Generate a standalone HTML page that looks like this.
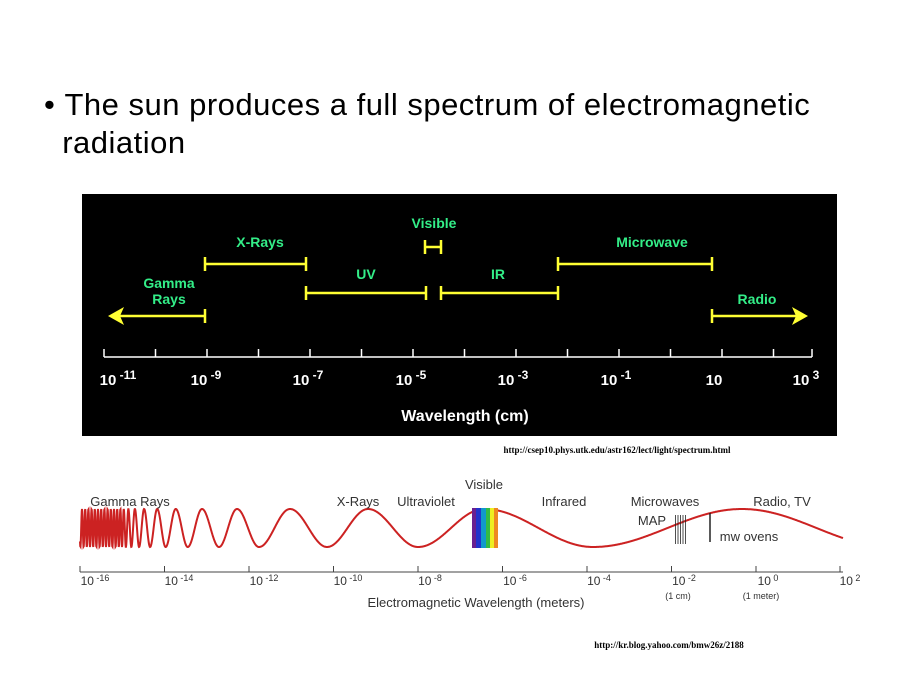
<!DOCTYPE html>
<html><head><meta charset="utf-8"><style>
body{margin:0;width:900px;height:675px;background:#fff;overflow:hidden;position:relative;font-family:"Liberation Sans",sans-serif}
.t{position:absolute;white-space:nowrap}
</style></head><body>
<div class="t" style="left:44px;top:86px;font-size:31px;color:#000;line-height:38px;letter-spacing:0.5px">•&nbsp;The sun produces a full spectrum of electromagnetic<br>&nbsp;&nbsp;radiation</div>
<svg width="900" height="675" style="position:absolute;left:0;top:0" font-family="Liberation Sans, sans-serif">
<rect x="82" y="194" width="755" height="242" fill="#000"/>
<g stroke="#ffff33" stroke-width="2.5" fill="none">
<path d="M205 264H306M205 257V271M306 257V271"/>
<path d="M558 264H712M558 257V271M712 257V271"/>
<path d="M306 293H426M306 286V300M426 286V300"/>
<path d="M441 293H558M441 286V300M558 286V300"/>
<path d="M425 247H441M425 240V254M441 240V254"/>
<path d="M118 316H205M205 309V323"/>
<path d="M712 316H798M712 309V323"/>
</g>
<polygon points="108,316 124,307 120,316 124,325" fill="#ffff33"/>
<polygon points="808,316 792,307 796,316 792,325" fill="#ffff33"/>
<g fill="#33ee88" font-weight="bold" font-size="14" text-anchor="middle">
<text x="434" y="228">Visible</text><text x="260" y="247">X-Rays</text><text x="366" y="279">UV</text><text x="498" y="279">IR</text><text x="652" y="247">Microwave</text><text x="169" y="288">Gamma</text><text x="169" y="304">Rays</text><text x="757" y="304">Radio</text>
</g>
<g stroke="#fff" stroke-width="1.5">
<path d="M104 357H812"/>
<path d="M104 349V357M155.5 349V357M207 349V357M258.5 349V357M310 349V357M361.5 349V357M413 349V357M464.5 349V357M516 349V357M567.5 349V357M619 349V357M670.5 349V357M722 349V357M773.5 349V357M812 349V357"/>
</g>
<g fill="#fff" font-weight="bold" font-size="15" text-anchor="middle">
<text x="118" y="385">10<tspan dy="-6" font-size="12"> -11</tspan></text>
<text x="206" y="385">10<tspan dy="-6" font-size="12"> -9</tspan></text>
<text x="308" y="385">10<tspan dy="-6" font-size="12"> -7</tspan></text>
<text x="411" y="385">10<tspan dy="-6" font-size="12"> -5</tspan></text>
<text x="513" y="385">10<tspan dy="-6" font-size="12"> -3</tspan></text>
<text x="616" y="385">10<tspan dy="-6" font-size="12"> -1</tspan></text>
<text x="714" y="385">10</text>
<text x="806" y="385">10<tspan dy="-6" font-size="12"> 3</tspan></text>
<text x="465" y="421" font-size="16">Wavelength (cm)</text>
</g>
<text x="617" y="453" font-family="Liberation Serif, serif" font-weight="bold" font-size="9" text-anchor="middle">http://csep10.phys.utk.edu/astr162/lect/light/spectrum.html</text>
<path id="wave" d="" stroke="#cc2222" stroke-width="2" fill="none"/>
<g>
<rect x="472" y="508" width="4" height="40" fill="#6a2090"/>
<rect x="476" y="508" width="5" height="40" fill="#2233cc"/>
<rect x="481" y="508" width="5" height="40" fill="#1199cc"/>
<rect x="486" y="508" width="4" height="40" fill="#33bb44"/>
<rect x="490" y="508" width="4" height="40" fill="#eeee22"/>
<rect x="494" y="508" width="4" height="40" fill="#ee8822"/>
</g>
<g stroke="#222" stroke-width="0.8"><path d="M675.5 515V544M678 515V544M680.5 515V544M683 515V544M685.5 515V544"/><path d="M710 513V542" stroke-width="1.5"/></g>
<g stroke="#444" stroke-width="1"><path d="M80 572H843"/>
<path d="M80 566V572M164.5 566V572M249 566V572M333.5 566V572M418 566V572M502.5 566V572M587 566V572M671.5 566V572M756 566V572M840 566V572"/></g>
<g fill="#333" font-size="12" text-anchor="middle">
<text x="95" y="585">10<tspan dy="-4" font-size="9"> -16</tspan></text>
<text x="179" y="585">10<tspan dy="-4" font-size="9"> -14</tspan></text>
<text x="264" y="585">10<tspan dy="-4" font-size="9"> -12</tspan></text>
<text x="348" y="585">10<tspan dy="-4" font-size="9"> -10</tspan></text>
<text x="430" y="585">10<tspan dy="-4" font-size="9"> -8</tspan></text>
<text x="515" y="585">10<tspan dy="-4" font-size="9"> -6</tspan></text>
<text x="599" y="585">10<tspan dy="-4" font-size="9"> -4</tspan></text>
<text x="684" y="585">10<tspan dy="-4" font-size="9"> -2</tspan></text>
<text x="768" y="585">10<tspan dy="-4" font-size="9"> 0</tspan></text>
<text x="850" y="585">10<tspan dy="-4" font-size="9"> 2</tspan></text>
<text x="678" y="599" font-size="9">(1 cm)</text>
<text x="761" y="599" font-size="9">(1 meter)</text>
<text x="476" y="607" font-size="13">Electromagnetic Wavelength (meters)</text>
<text x="130" y="506" font-size="13">Gamma Rays</text>
<text x="358" y="506" font-size="13">X-Rays</text>
<text x="426" y="506" font-size="13">Ultraviolet</text>
<text x="484" y="489" font-size="13">Visible</text>
<text x="564" y="506" font-size="13">Infrared</text>
<text x="665" y="506" font-size="13">Microwaves</text>
<text x="652" y="525" font-size="13">MAP</text>
<text x="782" y="506" font-size="13">Radio, TV</text>
<text x="749" y="541" font-size="13">mw ovens</text>
</g>
<text x="669" y="648" font-family="Liberation Serif, serif" font-weight="bold" font-size="9" text-anchor="middle">http://kr.blog.yahoo.com/bmw26z/2188</text>
</svg>
<script>
(function(){
var pts=[742,593,484,418,368,327,290,259,237,219,202];
var h=17;
while(pts[pts.length-1]>80){h=Math.max(1.6,h*0.84);pts.push(pts[pts.length-1]-h);}
pts.reverse();
var n=pts.length;
function phase(x){
 if(x>=742){return (x-742)/(742-593)*Math.PI;}
 for(var i=0;i<n-1;i++){if(x>=pts[i]&&x<=pts[i+1]){var ph0=-(n-1-i)*Math.PI;return ph0+(x-pts[i])/(pts[i+1]-pts[i])*Math.PI;}}
 return -(n-1)*Math.PI;
}
var d="";
for(var x=80;x<=843;x+=0.25){var y=528-19*Math.cos(phase(x));d+=(x==80?"M":"L")+x.toFixed(2)+" "+y.toFixed(1);}
document.getElementById("wave").setAttribute("d",d);
})();
</script>
</body></html>
